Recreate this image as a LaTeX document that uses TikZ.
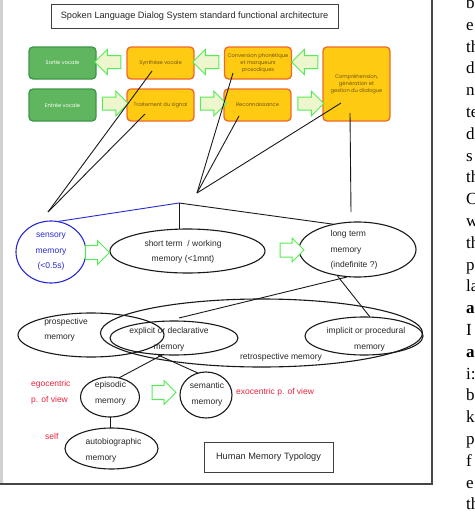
\documentclass[tikz,border=0pt]{standalone}
\usepackage{fontspec}
\setmainfont{Liberation Sans}
\newfontfamily\boxfont{Poppins}
\newfontfamily\colfont{Liberation Serif}
\usetikzlibrary{calc, shapes.geometric, shapes.arrows}
\definecolor{boxgreen}{RGB}{96,182,94}
\definecolor{boxgreenline}{RGB}{62,150,72}
\definecolor{boxorange}{RGB}{255,202,18}
\definecolor{boxorangeline}{RGB}{240,104,40}
\definecolor{boxtext}{RGB}{112,84,18}
\definecolor{arrowgreen}{RGB}{84,236,84}
\definecolor{arrowfill}{RGB}{238,246,206}
\definecolor{sensblue}{RGB}{40,40,210}
\definecolor{viewred}{RGB}{236,34,62}
\definecolor{framegray}{RGB}{70,70,70}

\begin{document}
\begin{tikzpicture}[x=1pt, y=-1pt,
        slds/.style={draw=boxorangeline, fill=boxorange, line width=1.3, rounded corners=4, minimum width=67, minimum height=32, inner sep=0, text=boxtext, font=\boxfont\fontsize{5.2}{6.8}\selectfont, align=center},
        io/.style={slds, draw=boxgreenline, fill=boxgreen, text=white},
        flow/.style={single arrow, draw=arrowgreen, fill=arrowfill, line width=1, minimum height=26, inner xsep=0, inner ysep=6, single arrow head extend=6},
        flowleft/.style={flow, shape border rotate=180},
        memarrow/.style={single arrow, draw=arrowgreen, fill=white, line width=1, minimum height=24, inner xsep=0, inner ysep=6.5, single arrow head extend=5},
        mem/.style={ellipse, draw=black!90, line width=1.1, inner sep=0, outer sep=0},
        memtext/.style={font=\fontsize{8.5}{15.5}\selectfont, text=black!85, align=center, inner sep=0},
        view/.style={memtext, text=viewred, align=left},
        titlebox/.style={draw=black!75, line width=1, inner sep=0, font=\fontsize{9.2}{11}\selectfont, text=black!85},
        link/.style={draw=black!90, line width=0.9}]
    \useasboundingbox (0,0) rectangle (474,514);

    % frame of the figure
    \fill[black!18] (0,0) rectangle (2.5,484);
    \draw[framegray, line width=1.2] (0,484) -- (432,484) -- (432,0);

    \node[titlebox, minimum width=287, minimum height=24] (sldstitle) at (194.5,16) {Spoken Language Dialog System standard functional architecture};

    \node[io] (sortie) at (62.5,63) {Sortie vocale};
    \node[io] (entree) at (62.5,105) {Entrée vocale};
    \node[slds] (synth) at (160.5,63) {Synthèse vocale};
    \node[slds] (trait) at (160.5,105) {Traitement du signal};
    \node[slds] (conv) at (258,63) {Conversion phonétique\\et marqueurs\\prosodiques};
    \node[slds] (recon) at (257.5,105) {Reconnaissance};
    \node[slds, minimum height=74] (compr) at (356.5,84) {Compréhension,\\génération et\\gestion du dialogue};

    \node[flowleft] (out1) at (111,62) {};
    \node[flowleft] (out2) at (209,62) {};
    \node[flowleft] (out3) at (308,62) {};
    \node[flow] (in1) at (112,103.5) {};
    \node[flow] (in2) at (210,103.5) {};
    \node[flow] (in3) at (307.5,103.5) {};

    \coordinate (sensjoin) at (48,212);
    \coordinate (stjoin) at (197,193);
    \coordinate (ltjoin) at (351,212);
    \coordinate (apex) at (179,203);

    \draw[link] ($(synth.center)+(-8.5,8)$) -- (sensjoin);
    \draw[link] ($(trait.center)+(-15.5,9)$) -- (sensjoin);
    \draw[link] ($(conv.center)+(-25,10)$) -- (stjoin);
    \draw[link] ($(recon.center)+(-18.5,11)$) -- (stjoin);
    \draw[link] ($(compr.center)+(-15.5,19)$) -- (stjoin);
    \draw[link] ($(compr.center)+(-6.5,29)$) -- (ltjoin);

    % memory typology
    \node[mem, draw=sensblue, minimum width=70, minimum height=62] (sens) at (51,252) {};
    \node[memtext, text=sensblue] (senstext) at (sens) {sensory\\memory\\(<0.5s)};
    \node[mem, minimum width=155, minimum height=44] (st) at (187.5,251) {};
    \node[memtext] (sttext) at (183,252) {short term\ \ / working\\memory (<1mnt)};
    \node[mem, minimum width=117, minimum height=55] (lt) at (357.5,249.5) {};
    \node[memtext, align=left] (lttext) at (354,250) {long term\\memory\\(indefinite ?)};

    \node[memarrow] (step1) at (94,252.5) {};
    \node[memarrow] (step2) at (288.5,250) {};

    \draw[link, draw=sensblue] (apex) -- (sens.78);
    \draw[link] (apex) -- (apex |- st.north);
    \draw[link] (apex) -- (lt.133);

    \node[mem, minimum width=322, minimum height=68] (retro) at (261.5,333) {};
    \node[memtext] (retrotext) at (281,357) {retrospective memory};
    \node[mem, minimum width=146, minimum height=44] (prosp) at (91,335) {};
    \node[memtext, align=left] (prosptext) at (66,330) {prospective\\memory};
    \node[mem, minimum width=128, minimum height=34] (expl) at (174,338) {};
    \node[memtext] (expltext) at (169,339.5) {explicit or declarative\\memory};
    \node[mem, minimum width=118, minimum height=38] (impl) at (364,336) {};
    \node[memtext] (impltext) at (366,339.5) {implicit or procedural\\\ \ \ memory};

    \draw[link] ($(lt.south)+(-10.5,0)$) -- ($(expl.north)+(5,-3)$);
    \draw[link] ($(lt.south)+(-20,-1)$) -- ($(impl.north)+(6,0)$);

    \node[mem, minimum width=59, minimum height=40] (epis) at (110,397) {};
    \node[memtext] (epistext) at (110.5,393.5) {episodic\\memory};
    \node[mem, minimum width=52, minimum height=46] (sem) at (206,395) {};
    \node[memtext] (semtext) at (207,394.5) {semantic\\memory};
    \node[memarrow] (step3) at (160.5,392.5) {};
    \node[mem, minimum width=93, minimum height=41] (auto) at (111.5,448.5) {};
    \node[memtext, align=left] (autotext) at (113.5,450.5) {autobiographic\\memory};

    \draw[link] ($(expl.south)+(-12,0)$) -- (epis.65);
    \draw[link] ($(expl.south)+(-16,0)$) -- (sem.110);
    \draw[link] (epis.south) -- (epis.south |- auto.north);

    \node[view, anchor=west] (ego) at (31,392.5) {egocentric\\p. of view};
    \node[view, anchor=west] (exo) at (236,392) {exocentric p. of view};
    \node[view, anchor=west] (self) at (45,436) {self};

    \node[titlebox, minimum width=129, minimum height=30] (typology) at (268.5,457) {Human Memory Typology};

    % next column of the page
    \foreach \t [count=\i from 0] in {b,e,th,d,n,te,d,s,th,C,w,th,p,la,\textbf{a},I,\textbf{a},i:,b,k,p,f,e,th}
        \node[font=\colfont\fontsize{17}{20}\selectfont, anchor=base west, inner sep=0] (col\i) at (466,8.5+21.8*\i) {\t};
\end{tikzpicture}
\end{document}
